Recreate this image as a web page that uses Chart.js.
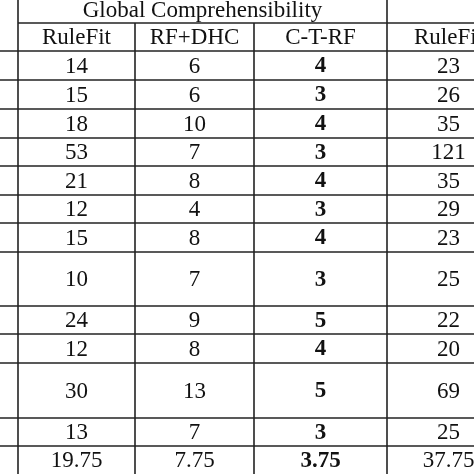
<!DOCTYPE html>
<html><head><meta charset="utf-8">
<script src="https://cdn.jsdelivr.net/npm/chart.js@4/dist/chart.umd.min.js"></script>
<style>html,body{margin:0;padding:0;background:#fff}#wrap{width:474px;height:474px}</style>
</head><body><div id="wrap"><canvas id="c"></canvas></div>
<script>
const groupTitle = "Global Comprehensibility";
const headers = ["RuleFit", "RF+DHC", "C-T-RF", "RuleFit"];
const ruleFit = [14, 15, 18, 53, 21, 12, 15, 10, 24, 12, 30, 13, "19.75"];
const rfDhc = [6, 6, 10, 7, 8, 4, 8, 7, 9, 8, 13, 7, "7.75"];
const ctrf = [4, 3, 4, 3, 4, 3, 4, 3, 5, 4, 5, 3, "3.75"];
const ruleFit2 = [23, 26, 35, 121, 35, 29, 23, 25, 22, 20, 69, 25, "37.75"];
const columns = [ruleFit, rfDhc, ctrf, ruleFit2];
const boldCol = 2;

// table geometry in page pixels
const colEdges = [18, 135, 254, 387, 510];
const rowEdges = [51, 80, 109, 138, 166, 195, 223, 252, 306, 334, 363, 418, 446, 476];

const tablePlugin = {
  id: 'table',
  afterDraw(chart) {
    const ctx = chart.ctx, xs = chart.scales.x, ys = chart.scales.y;
    const X = v => xs.getPixelForValue(v), Y = v => ys.getPixelForValue(v);
    ctx.save();
    ctx.strokeStyle = '#222';
    ctx.lineWidth = 1.6;
    ctx.fillStyle = '#111';
    ctx.textAlign = 'center';
    ctx.textBaseline = 'middle';
    const line = (x1, y1, x2, y2) => { ctx.beginPath(); ctx.moveTo(X(x1), Y(y1)); ctx.lineTo(X(x2), Y(y2)); ctx.stroke(); };
    line(colEdges[0], 23, 474, 23);
    rowEdges.forEach(r => line(0, r, 474, r));
    line(colEdges[0], 0, colEdges[0], 474);
    line(colEdges[3], 0, colEdges[3], 474);
    line(colEdges[1], 23, colEdges[1], 474);
    line(colEdges[2], 23, colEdges[2], 474);
    ctx.font = '23px "Liberation Serif", serif';
    ctx.fillText(groupTitle, X((colEdges[0] + colEdges[3]) / 2), Y(11));
    headers.forEach((h, i) => ctx.fillText(h, X((colEdges[i] + colEdges[i + 1]) / 2), Y(38)));
    columns.forEach((col, i) => {
      ctx.font = (i === boldCol ? 'bold ' : '') + '23px "Liberation Serif", serif';
      const cx = (colEdges[i] + colEdges[i + 1]) / 2;
      col.forEach((v, r) => {
        const cy = (rowEdges[r] + Math.min(rowEdges[r + 1], 474)) / 2 + 1;
        ctx.fillText(String(v), X(cx), Y(cy));
      });
    });
    ctx.restore();
  }
};

new Chart(document.getElementById('c'), {
  type: 'scatter',
  data: { datasets: [{ data: [] }] },
  options: {
    responsive: true, maintainAspectRatio: false, animation: false,
    layout: { padding: 0 },
    plugins: { legend: { display: false }, tooltip: { enabled: false } },
    scales: {
      x: { type: 'linear', min: 0, max: 474, display: false },
      y: { type: 'linear', min: 0, max: 474, reverse: true, display: false }
    }
  },
  plugins: [tablePlugin]
});
</script></body></html>
